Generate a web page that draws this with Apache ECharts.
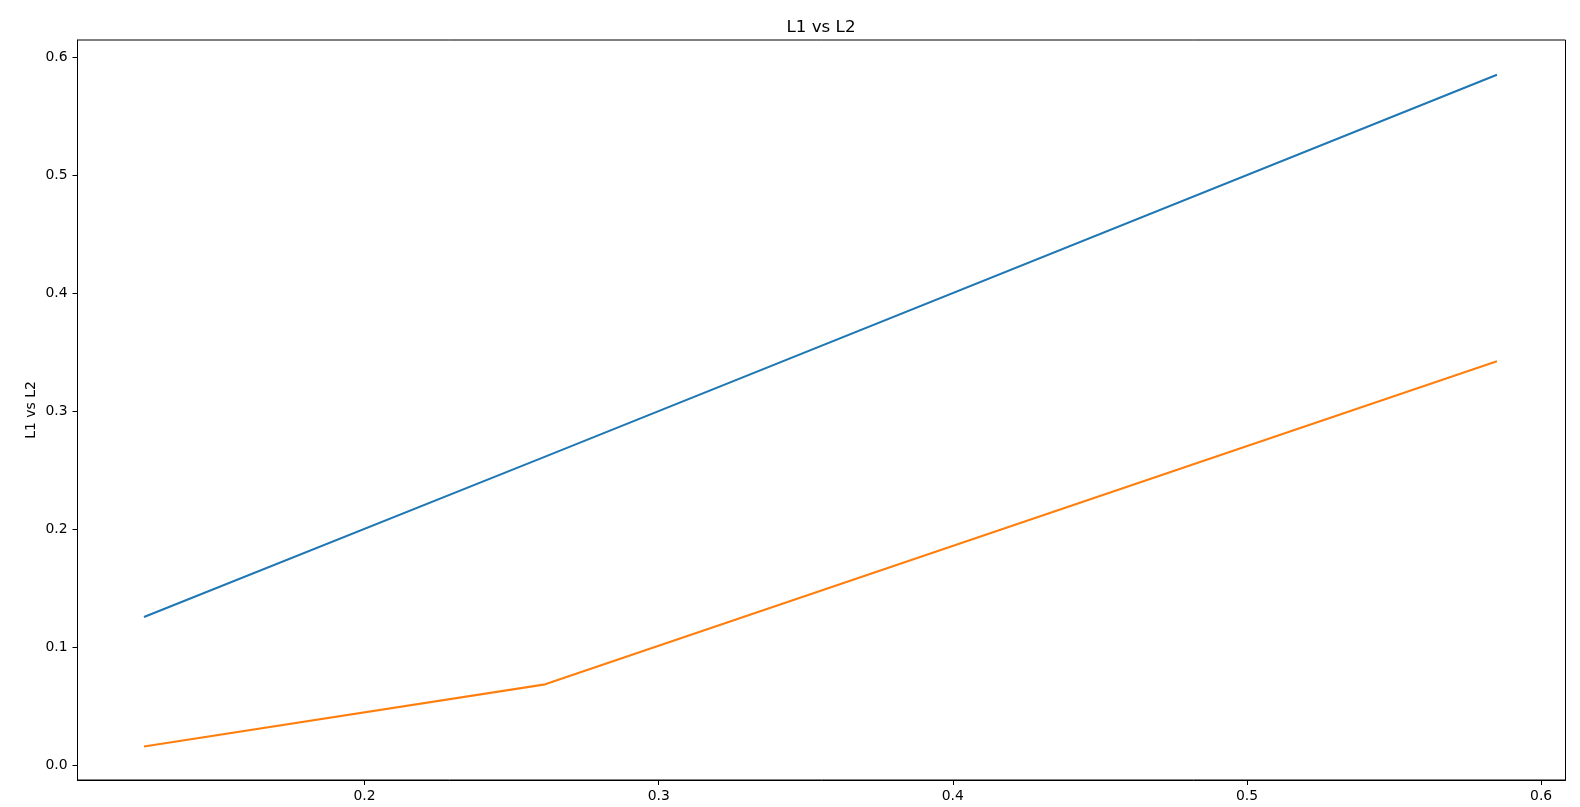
<!DOCTYPE html>
<html lang="en">
<head>
    <meta charset="UTF-8">
    <title>L1 vs L2</title>
    <script src="https://cdn.jsdelivr.net/npm/echarts@6/dist/echarts.min.js"></script>
    <style>
        html, body { margin: 0; padding: 0; background: #fff; }
        #chart { width: 1580px; height: 807px; }
    </style>
</head>
<body>
<div id="chart"></div>
<script>
    // values
    var xValues = [0.125, 0.2614, 0.585];
    var l1Values = [0.1254, 0.2614, 0.5853];
    var l2Values = [0.0156, 0.0683, 0.3422];
    var xTicks = [0.2, 0.3, 0.4, 0.5, 0.6];
    var yTicks = [0.0, 0.1, 0.2, 0.3, 0.4, 0.5, 0.6];

    function pairs(xs, ys) {
        var out = [];
        for (var i = 0; i < xs.length; i++) {
            out.push([xs[i], ys[i]]);
        }
        return out;
    }

    var chart = echarts.init(document.getElementById('chart'), null, {renderer: 'canvas'});
    var font = 'DejaVu Sans';

    var option = {
        animation: false,
        backgroundColor: '#ffffff',
        title: {
            text: 'L1 vs L2',
            left: 816,
            top: 14,
            textAlign: 'center',
            textStyle: {fontFamily: font, fontSize: 16.7, fontWeight: 'normal', color: '#000'}
        },
        grid: {
            left: 77.5, right: 14.5, top: 40, bottom: 27,
            show: true, borderColor: '#000', borderWidth: 1, backgroundColor: '#fff'
        },
        xAxis: {
            type: 'value',
            min: 0.1024, max: 0.6083,
            splitLine: {show: false},
            axisLine: {show: true, onZero: false, lineStyle: {color: '#000', width: 1}},
            axisTick: {show: true, length: 5, lineStyle: {color: '#000'}, customValues: xTicks},
            axisLabel: {
                fontFamily: font, fontSize: 13.9, color: '#000', margin: 9,
                customValues: xTicks,
                formatter: function (v) { return v.toFixed(1); }
            }
        },
        yAxis: {
            type: 'value',
            min: -0.0128, max: 0.6147,
            name: 'L1 vs L2',
            nameLocation: 'middle',
            nameGap: 39,
            nameMoveOverlap: false,
            nameTextStyle: {fontFamily: font, fontSize: 13.9, color: '#000'},
            splitLine: {show: false},
            axisLine: {show: true, onZero: false, lineStyle: {color: '#000', width: 1}},
            axisTick: {show: true, length: 5, lineStyle: {color: '#000'}, customValues: yTicks},
            axisLabel: {
                fontFamily: font, fontSize: 13.9, color: '#000', margin: 10,
                customValues: yTicks,
                formatter: function (v) { return v.toFixed(1); }
            }
        },
        series: [
            {
                name: 'L1', type: 'line', showSymbol: false,
                data: pairs(xValues, l1Values),
                lineStyle: {color: '#1f77b4', width: 2.1},
                itemStyle: {color: '#1f77b4'}
            },
            {
                name: 'L2', type: 'line', showSymbol: false,
                data: pairs(xValues, l2Values),
                lineStyle: {color: '#ff7f0e', width: 2.1},
                itemStyle: {color: '#ff7f0e'}
            }
        ]
    };

    chart.setOption(option);
</script>
</body>
</html>
